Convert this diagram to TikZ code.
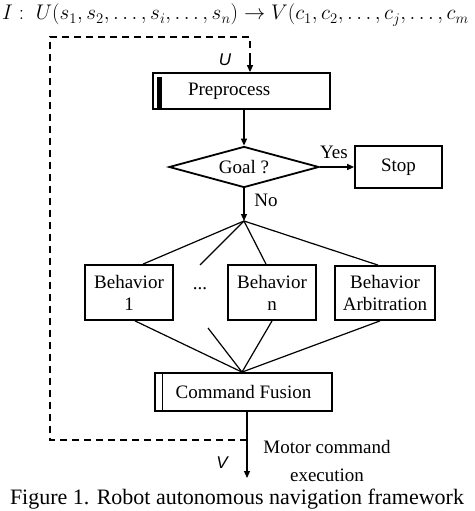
\documentclass[tikz,border=0pt]{standalone}
\usepackage{fontspec}
\setmainfont{Liberation Serif}
\setsansfont{Liberation Sans}
\usetikzlibrary{arrows.meta,shapes.geometric}
\begin{document}
\begin{tikzpicture}[x=1pt,y=-1pt,
  box/.style={draw,line width=1.8pt,inner sep=0pt,align=center,
    font=\fontsize{19}{22}\selectfont},
  plain/.style={line width=1.2pt},
  arr/.style={line width=1.2pt,-{Triangle[length=7pt,width=6pt]}},
  loop/.style={line width=1.4pt,dash pattern=on 7pt off 5pt},
  lab/.style={inner sep=0pt,font=\fontsize{19}{22}\selectfont},
  slab/.style={inner sep=0pt,font=\sffamily\itshape\fontsize{17}{20}\selectfont}]
\useasboundingbox (0,0) rectangle (474,511);
\node[anchor=west,inner sep=0pt,scale=1.02,font=\fontsize{20.74}{24}\selectfont] (formula) at (2,15)
  {$I:\;U(s_1,s_2,\ldots,s_i,\ldots,s_n)\rightarrow V(c_1,c_2,\ldots,c_j,\ldots,c_m$};
% boxes
\node[box,minimum height=36pt,text width=107pt,inner xsep=35pt,align=left] (pre) at (241.5,91) {Preprocess};
\fill (157,77) rectangle (162,108);
\node[box,shape=diamond,aspect=3.66,minimum width=150pt,minimum height=41pt] (goal) at (244,167) {Goal ?};
\node[box,minimum width=87pt,minimum height=42pt] (stop) at (398.5,167) {Stop};
\node[box,minimum width=88pt,minimum height=55pt] (b1) at (129,292.5) {Behavior\\1};
\node[lab] (dots) at (200,289) {...};
\node[box,minimum width=88pt,minimum height=55pt] (bn) at (272,292.5) {Behavior\\n};
\node[box,minimum width=100pt,minimum height=54pt] (ba) at (385,293) {Behavior\\Arbitration};
\node[box,minimum width=177pt,minimum height=38pt] (cmd) at (243.5,392) {Command Fusion};
\draw[line width=1.2pt] ([xshift=8pt]cmd.north west) -- ([xshift=8pt]cmd.south west);
% coordinates
\coordinate (fan) at (244,221);
\coordinate (vend) at (247,478);
\coordinate (vtap) at (247,440);
\coordinate (loopbl) at (50,440);
\coordinate (looptl) at (50,37);
\coordinate (loopin) at (250,37);
% connectors
\draw[arr] (pre.south -| goal.north) -- (goal.north);
\draw[arr] (goal.east) -- (stop.west);
\draw[arr] (goal.south) -- (fan);
\draw[plain] (fan) -- ([xshift=14pt]b1.north);
\draw[plain] (fan) -- ([yshift=24pt]dots.center);
\draw[plain] (fan) -- ([xshift=-6pt]bn.north);
\draw[plain] (fan) -- ([xshift=-7pt]ba.north);
\draw[plain] ([xshift=6pt]b1.south) -- ([xshift=-1.5pt]cmd.north);
\draw[plain] ([xshift=8pt,yshift=-39pt]dots.center) -- ([xshift=-1.5pt]cmd.north);
\draw[plain] (bn.south) -- ([xshift=-1.5pt]cmd.north);
\draw[plain] ([xshift=-5pt]ba.south) -- ([xshift=-1.5pt]cmd.north);
\draw[arr] (cmd.south -| vend) -- (vend);
\draw[loop] (vtap) -- (loopbl) -- (looptl) -- (loopin) -- ([yshift=14pt]loopin |- pre.north);
\draw[arr] ([yshift=14pt]loopin |- pre.north) -- (loopin |- pre.north);
% labels
\node[lab] (yes) at (334,152) {Yes};
\node[lab] (no) at (266,200) {No};
\node[slab] (ulab) at (225,60) {U};
\node[slab] (vlab) at (222,463) {V};
\node[lab,align=center,font=\fontsize{19}{28}\selectfont] (motor) at (327,461) {Motor command\\execution};
\node[inner sep=0pt,font=\fontsize{22}{26}\selectfont] (caption) at (237,499) {Figure 1. Robot autonomous navigation framework};
\end{tikzpicture}
\end{document}
